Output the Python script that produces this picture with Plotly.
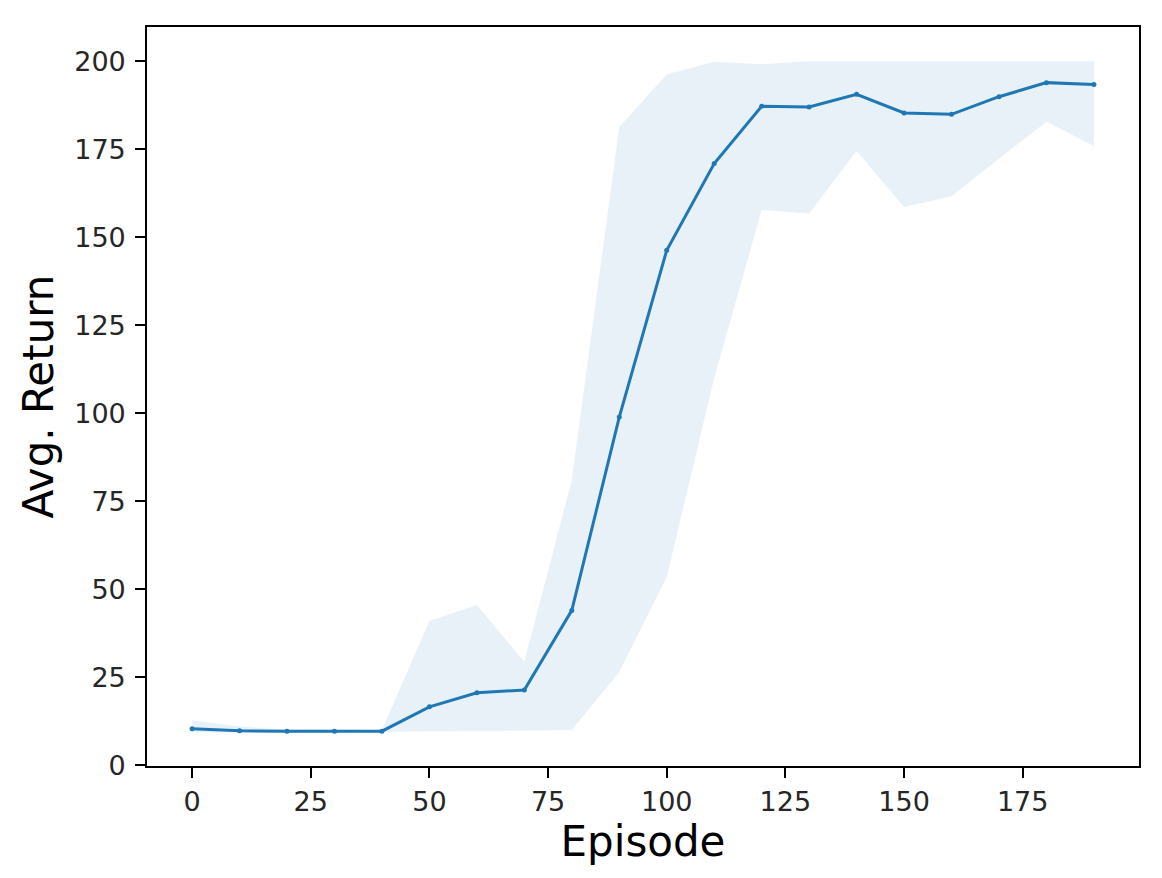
import plotly.graph_objects as go

# Episodes and average return (mean with shaded band)
episodes = [0, 10, 20, 30, 40, 50, 60, 70, 80, 90, 100, 110, 120, 130, 140, 150, 160, 170, 180, 190]
mean_return = [10.4, 9.8, 9.7, 9.7, 9.7, 16.6, 20.6, 21.4, 44.0, 98.9, 146.3, 170.9, 187.2, 187.0,
               190.6, 185.3, 184.9, 189.9, 193.9, 193.4]
upper_return = [12.8, 11.0, 10.2, 10.0, 10.0, 41.0, 45.5, 29.4, 81.0, 181.3, 196.2, 199.8, 199.1, 200.0,
                200.0, 200.0, 200.0, 200.0, 200.0, 200.0]
lower_return = [9.4, 9.3, 9.3, 9.4, 9.5, 9.6, 9.7, 9.8, 10.0, 26.5, 53.5, 110.0, 157.7, 156.7,
                174.5, 158.6, 161.6, 172.3, 182.8, 175.9]

x_ticks = [0, 25, 50, 75, 100, 125, 150, 175]
y_ticks = [0, 25, 50, 75, 100, 125, 150, 175, 200]

blue = '#1f77b4'
font = 'DejaVu Sans'

fig = go.Figure()
# Lower edge of the band (invisible)
fig.add_trace(go.Scatter(x=episodes, y=lower_return, mode='lines', line=dict(width=0),
                         showlegend=False, hoverinfo='skip'))
# Upper edge, filled down to the lower edge
fig.add_trace(go.Scatter(x=episodes, y=upper_return, mode='lines', line=dict(width=0),
                         fill='tonexty', fillcolor='rgba(31,119,180,0.1)',
                         showlegend=False, hoverinfo='skip'))
# Mean curve
fig.add_trace(go.Scatter(x=episodes, y=mean_return, mode='lines+markers',
                         line=dict(color=blue, width=3), marker=dict(color=blue, size=5),
                         showlegend=False))

axis_style = dict(showline=True, linecolor='black', linewidth=1.6, mirror=True,
                  ticks='outside', ticklen=10, tickwidth=1.6, tickcolor='black',
                  showgrid=False, zeroline=False,
                  tickfont=dict(family=font, size=27, color='#262626'))

# page body has an 8px margin, so margins are shifted by that
fig.update_layout(
    width=1162, height=878,
    margin=dict(l=139, r=31, t=19, b=120),
    paper_bgcolor='white', plot_bgcolor='white',
    xaxis=dict(range=[-9.5, 199.5], tickvals=x_ticks,
               title=dict(text='Episode', font=dict(family=font, size=42, color='black'), standoff=10),
               ticklabelstandoff=1, **axis_style),
    yaxis=dict(range=[-0.2, 209.7], tickvals=y_ticks,
               title=dict(text='Avg. Return', font=dict(family=font, size=42, color='black'), standoff=8),
               ticklabelstandoff=4, **axis_style),
)

fig.write_html("out.html")
